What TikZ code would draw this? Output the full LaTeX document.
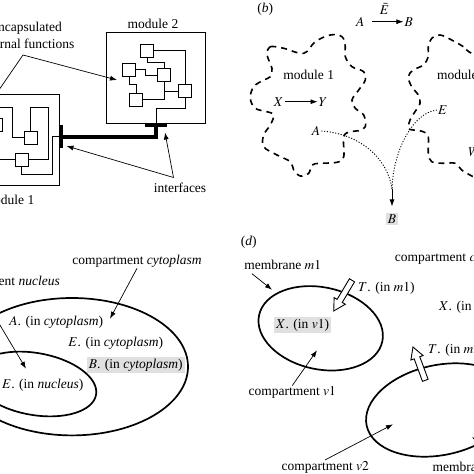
\documentclass[tikz,border=0pt]{standalone}
\usepackage{mathptmx}
\usepackage{fontspec}
\setmainfont{Liberation Serif}
\usetikzlibrary{arrows.meta}
\tikzset{
  lbl/.style={inner sep=1pt, font=\fontsize{13.5}{17}\selectfont},
  hilite/.style={lbl, fill=black!12, inner sep=2pt},
  fbox/.style={draw, line width=0.9pt, minimum size=13pt, inner sep=0pt},
  modbox/.style={draw, line width=1pt, inner sep=0pt},
  wire/.style={line width=0.8pt},
  ptr/.style={line width=0.7pt, -{Latex[length=7pt,width=5pt]}},
  iface/.style={line width=4pt},
  bar/.style={fill, inner sep=0pt},
  blob/.style={line width=1.6pt, dash pattern=on 6pt off 5pt},
  cell/.style={line width=1.7pt},
  fat/.style={draw, line width=0.9pt, fill=white},
  dots/.style={line width=0.9pt, dash pattern=on 1.1pt off 1.7pt},
}
\begin{document}
\begin{tikzpicture}[x=1pt,y=-1pt]
    \useasboundingbox (0,0) rectangle (474,474);

    % (a)
    \node[modbox, minimum width=99pt, minimum height=91pt] (mod2) at (155.5,77.5) {};
    \node[lbl] (mod2l) at (153,24) {module 2};
    \node[fbox] (f1) at (147.3,50.7) {};
    \node[fbox] (f2) at (129.3,69.5) {};
    \node[fbox] (f3) at (164,75.3) {};
    \node[fbox] (f4) at (185,91) {};
    \node[fbox] (f5) at (136,99.7) {};
    \node[bar, minimum width=22pt, minimum height=3pt] (if2) at (156,125) {};
    \coordinate (j1) at (164,91);

    \draw[wire] (f1.east) -| (f4.north);
    \draw[wire] (f1.south) -- ++(0,5) -| (f3.north);
    \draw[wire] (f2.east) -- ++(9,0) |- (f3.west);
    \draw[wire] (f2.south) -- ++(0,7.5) -| (f5.north);
    \draw[wire] (f3.south) |- (f4.west);
    \draw[wire] (f5.east) -| (j1);
    \draw[wire] (f4.south) -- ++(0,10.5) -| (if2.north);

    \node[modbox, minimum width=104pt, minimum height=91.4pt] (mod1) at (7.3,140) {};
    \node[lbl] (mod1l) at (9,200) {module 1};
    \node[fbox] (g0) at (-4,125) {};
    \node[fbox] (g1) at (30.7,137.7) {};
    \node[fbox] (g2) at (21.7,159.7) {};
    \node[bar, minimum width=3pt, minimum height=23pt] (if1) at (61,136.5) {};
    \coordinate (w1) at (-30,107.3);
    \coordinate (w2) at (-30,159.7);

    \draw[wire] (w1) -- ++(42.7,0) |- (g1.west);
    \draw[wire] (g1.north) |- ++(17.6,-23.3) |- (g2.east);
    \draw[wire] (w2) -- (g2.west);
    \draw[wire] (g2.south) |- ++(31,8) |- (if1.center);
    \draw[iface] (if1.center) -| (if2.center);

    \node[lbl, align=center] (enc) at (27,35.5) {encapsulated\\internal functions};
    \coordinate (encs) at (23,55);
    \coordinate (enct1) at (-10,103);
    \coordinate (enct2) at (117,80);
    \draw[ptr] (encs) -- (enct2);
    \draw[ptr] (encs) -- (enct1);

    \node[lbl] (ifl) at (180,188) {interfaces};
    \coordinate (ifs) at (173.5,177.5);
    \coordinate (ift1) at (66.5,146);
    \coordinate (ift2) at (165,132.5);
    \draw[ptr] (ifs) -- (ift1);
    \draw[ptr] (ifs) -- (ift2);

    % (b)
    \node[lbl] (lb) at (265.3,9) {(\textit{b})};
    \node[lbl] (ba) at (360.3,21.7) {$A$};
    \node[lbl] (bb) at (408.7,21.7) {$B$};
    \draw[ptr, shorten <=6pt] (ba) -- node[lbl, above=6pt] (be) {$\bar{E}$} (bb);

    \draw[blob] plot[smooth cycle, tension=0.6] coordinates {
        (267,53.3) (270.3,46.7) (283.7,48.3) (303.7,53.3) (315.3,41.7) (330.3,35)
        (342,36.7) (345.3,46.7) (345.3,56.7) (352,66.7) (363.7,71.7) (365.3,80)
        (358.7,90) (352,100) (355.3,108.3) (363.7,115) (365.3,126.7) (358.7,130.7)
        (350.3,131.7) (343.7,136.7) (343.7,156.7) (337,162.3) (320.3,163.3) (312,165)
        (308.7,173.3) (300.3,176) (293.7,170) (290.3,161.7) (277,155) (263.7,146.7)
        (263.7,135) (270.3,125) (273.7,115) (267,111.7) (255.3,108.3) (250.3,98.3)
        (253.7,86.7) (263.7,80) (270.3,76.7) (272,68.3) (268.7,60)};
    \draw[blob] plot[smooth cycle, tension=0.6] coordinates {
        (471.7,53.3) (463.3,46.7) (451.7,40) (440,35) (431.7,38.3) (428.3,46.7)
        (428.3,56.7) (423.3,65) (413.3,70) (408.3,76.7) (411.7,86.7) (418.3,95)
        (420,103.3) (415,111.7) (410,120) (408.3,128.3) (413.3,130) (423.3,131.7)
        (428.3,136.7) (428.3,153.3) (431.7,161.7) (443.3,163.3) (455,163.3)
        (461.7,170) (470,175) (478,177) (500,170) (510,110) (495,60)};

    \node[lbl] (bm1) at (308.7,75) {module 1};
    \node[lbl] (bx) at (278.7,101.7) {$X$};
    \node[lbl] (by) at (323,101.7) {$Y$};
    \draw[ptr] (bx) -- (by);
    \node[lbl, anchor=west] (bm2) at (436,75) {module 2};
    \node[lbl, anchor=west] (bw) at (467,152) {$W$};

    \node[lbl] (bA) at (316,131) {$A$};
    \node[lbl] (bE) at (442.7,110) {$E$};
    \node[hilite] (bB) at (392,219) {$B$};
    \coordinate (bj) at (392,189);
    \draw[dots] (bA.east) .. controls (362,134) and (388,160) .. (bj);
    \draw[dots] (bE.west) .. controls (412,113) and (393,152) .. (bj);
    \draw[ptr, shorten >=6pt] (bj) -- (bB.north);

    % (c)
    \draw[cell] (72,366.7) ellipse [x radius=116, y radius=68.7];
    \draw[cell, rotate around={-10:(35,384)}] (35,384) ellipse [x radius=62, y radius=31];

    \node[lbl] (cc) at (137,261) {compartment \textit{cytoplasm}};
    \node[lbl, anchor=east] (cn) at (61,282.7) {compartment \textit{nucleus}};
    \coordinate (cct) at (110,318.7);
    \coordinate (cns) at (-21,290);
    \coordinate (cnt) at (26,368.7);
    \draw[ptr] (cc.south) -- (cct);
    \draw[ptr] (cns) -- (cnt);

    \node[lbl] (ca) at (56.3,322) {$A$. (in \textit{cytoplasm})};
    \node[lbl] (ce) at (115.8,343) {$E$. (in \textit{cytoplasm})};
    \node[hilite] (cb) at (135.7,365.3) {$B$. (in \textit{cytoplasm})};
    \node[lbl] (cen) at (42.7,385.3) {$E$. (in \textit{nucleus})};

    % (d)
    \node[lbl] (dl) at (248.7,242) {(\textit{d})};
    \draw[cell, rotate around={-12:(320.7,328.3)}] (320.7,328.3) ellipse [x radius=63, y radius=41];
    \draw[cell, rotate around={12:(440,410)}] (440,410) ellipse [x radius=75, y radius=45];

    \node[lbl] (dm1) at (282.8,265.3) {membrane $m1$};
    \coordinate (dm1s) at (252,273.7);
    \coordinate (dm1t) at (272,289.7);
    \draw[ptr] (dm1s) -- (dm1t);

    \node[hilite] (dx1) at (302.5,325.2) {$X$. (in $v1$)};
    \node[lbl, anchor=west] (dt1) at (357,288.7) {$T$. (in $m1$)};
    \draw[fat, shift={(352,280.3)}, rotate=239.2] (0,-3) -- (24,-3) -- (24,-6.5) -- (35.7,0) -- (24,6.5) -- (24,3) -- (0,3) -- cycle;

    \node[lbl] (dv1) at (292.3,392.7) {compartment $v1$};
    \coordinate (dv1t) at (317,350.3);
    \draw[ptr] (dv1.north) -- (dv1t);

    \node[lbl, anchor=west] (dc) at (393.7,258.7) {compartment $c$};
    \node[lbl, anchor=west] (dxc) at (438,307) {$X$. (in $c$)};
    \node[lbl, anchor=west] (dt2) at (427,350.3) {$T$. (in $m2$)};
    \draw[fat, shift={(425.3,380.3)}, rotate=110.3] (0,-3) -- (24,-3) -- (24,-6.5) -- (35.5,0) -- (24,6.5) -- (24,3) -- (0,3) -- cycle;

    \node[lbl] (dv2) at (325.3,467) {compartment $v2$};
    \coordinate (dv2t) at (393,424.3);
    \draw[ptr] (dv2.north) -- (dv2t);

    \node[lbl, anchor=west] (dm2) at (431.3,467) {membrane $m2$};
    \coordinate (dm2s) at (492,452);
    \coordinate (dm2t) at (472,437);
    \draw[ptr] (dm2s) -- (dm2t);

\end{tikzpicture}
\end{document}
